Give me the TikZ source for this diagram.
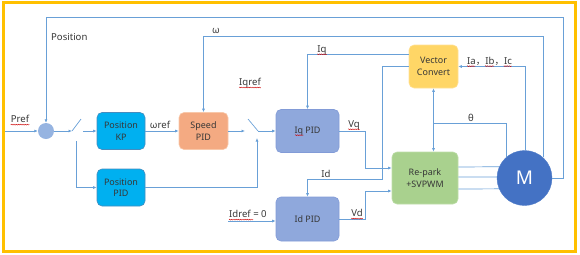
\documentclass[tikz,border=0pt]{standalone}
\usepackage{fontspec}
\setmainfont{Noto Sans}
\newfontfamily\cjk{Noto Sans CJK SC}
\usetikzlibrary{arrows.meta,calc,decorations.pathmorphing}
\definecolor{ln}{RGB}{105,160,215}
\definecolor{txt}{RGB}{55,55,55}
\definecolor{frame}{RGB}{255,192,0}
\definecolor{kpfill}{RGB}{0,176,240}
\definecolor{kpdraw}{RGB}{70,140,190}
\definecolor{spfill}{RGB}{244,170,130}
\definecolor{spdraw}{RGB}{248,200,170}
\definecolor{pidfill}{RGB}{143,168,220}
\definecolor{piddraw}{RGB}{130,155,215}
\definecolor{vcfill}{RGB}{255,214,102}
\definecolor{vcdraw}{RGB}{255,225,150}
\definecolor{rpfill}{RGB}{169,209,142}
\definecolor{rpdraw}{RGB}{190,222,170}
\definecolor{mfill}{RGB}{68,114,196}
\definecolor{mdraw}{RGB}{80,125,200}
\definecolor{sumfill}{RGB}{150,180,225}
\newcommand\boxfont{\fontsize{9}{11.5}\selectfont}
\newcommand\lblfont{\fontsize{9.6}{12}\selectfont}
\tikzset{
  conn/.style={draw=ln, line width=0.7bp},
  arr/.style={conn, -{Latex[length=3.5bp,width=3bp]}},
  box/.style={rounded corners=5bp, align=center, inner sep=0pt, font=\boxfont, text=txt, line width=0.6bp},
  lbl/.style={font=\lblfont, text=txt, inner sep=0pt},
  spell/.style={draw=red!80!black, line width=0.35bp, decorate, decoration={snake, amplitude=0.45bp, segment length=1.8bp}},
}
\begin{document}
\begin{tikzpicture}[x=1bp,y=-1bp]
\useasboundingbox (0,0) rectangle (580,254);
\draw[frame, line width=3.5bp] (3.5,2.5) rectangle (575.5,251.3);

% nodes
\node[box, fill=kpfill, draw=kpdraw, minimum width=48bp, minimum height=37bp] (KP) at (121,131) {Position\\KP};
\node[box, fill=kpfill, draw=kpdraw, minimum width=48bp, minimum height=37bp] (PPID) at (121,187.5) {Position\\PID};
\node[box, fill=spfill, draw=spdraw, minimum width=49bp, minimum height=37bp] (SPID) at (203.5,131) {Speed\\PID};
\node[box, fill=pidfill, draw=piddraw, minimum width=63bp, minimum height=43bp] (IqPID) at (307.5,131) {Iq PID};
\node[box, fill=pidfill, draw=piddraw, minimum width=63bp, minimum height=44bp] (IdPID) at (307.5,219) {Id PID};
\node[box, fill=vcfill, draw=vcdraw, minimum width=49bp, minimum height=43bp] (VC) at (433.5,66.5) {Vector\\Convert};
\node[box, fill=rpfill, draw=rpdraw, minimum width=66bp, minimum height=52bp] (RP) at (425,178) {Re-park\\+SVPWM};
\node[circle, fill=mfill, draw=mdraw, minimum size=55bp, inner sep=0pt, text=white, font=\fontsize{19}{24}\selectfont] (M) at (524.5,178) {M};
\node[circle, fill=sumfill, minimum size=16bp, inner sep=0pt] (Sum) at (46,131) {};

% coordinates
\coordinate (pin) at (5,131);
\coordinate (s1in) at (72,131);
\coordinate (s1tip) at (81,119);
\coordinate (s1out) at (83,131);
\coordinate (s1dn) at (76,141);
\coordinate (s2in) at (245,131);
\coordinate (s2tip) at (248,119);
\coordinate (s2piv) at (258,131);
\coordinate (s2low) at (257,138);
\coordinate (ptop) at (46,17);
\coordinate (wtop) at (203.5,36);
\coordinate (theta) at (433.5,123);
\coordinate (idx) at (382,179);
\coordinate (vqx) at (365,131);
\coordinate (vdx) at (365,219);
\coordinate (idrefin) at (228,221);

% connectors
\draw[arr] (pin) -- (Sum.west);
\draw[arr] (Sum.east) -- (s1in);
\draw[conn] (s1in) -- (s1tip);
\draw[arr] (s1out) -- (KP.west);
\draw[arr] (s1dn) |- (PPID.west);
\draw[arr] (KP.east) -- (SPID.west);
\draw[arr] (SPID.east) -- (s2in);
\draw[conn] (s2tip) -- (s2piv);
\draw[arr] (s2piv) -- (IqPID.west);
\draw[arr] (PPID.east) -| (s2low);
\draw[arr] (M.east) -- ++(11,0) |- (ptop) -- (Sum.north);
\draw[arr] (M.48) |- (wtop) -- (SPID.north);
\draw[arr] (M.89) |- (VC.east);
\draw[conn] (M.132) |- (theta);
\draw[arr] (theta) -- (VC.south);
\draw[arr] (theta) -- (VC.south |- RP.north);
\draw[arr] ($(VC.west)+(0,-12.5)$) -| (IqPID.north);
\draw[arr] (VC.west) -| (idx) -| (IdPID.north);
\draw[arr] (IqPID.east) -- (vqx) |- ($(RP.west)+(0,-10)$);
\draw[arr] (IdPID.east) -- (vdx) |- ($(RP.west)+(0,13)$);
\draw[arr] (idrefin) -- ($(IdPID.west)+(0,2)$);
\draw[conn] ($(RP.east)+(0,-11)$) -- (M.156.4);
\draw[conn] ($(RP.east)+(0,-1)$) -- (M.178);
\draw[conn] ($(RP.east)+(0,11)$) -- (M.203.6);

% labels
\node[lbl, anchor=west] (lpos) at (51,37) {Position};
\node[lbl] (lw) at (216,31) {ω};
\node[lbl] (liqref) at (250,83) {Iqref};
\node[lbl] (lpref) at (20,119) {Pref};
\node[lbl] (lwref) at (160,125) {ωref};
\node[lbl] (liq) at (322,50) {Iq};
\node[lbl, anchor=west] (liabc) at (467,61) {Ia{\cjk ，}Ib{\cjk ，}Ic};
\node[lbl] (lth) at (471,118) {θ};
\node[lbl] (lvq) at (354,125) {Vq};
\node[lbl] (lid) at (326,174) {Id};
\node[lbl] (lvd) at (357,213) {Vd};
\node[lbl, anchor=west] (lidref) at (229,214) {Idref = 0};

% spell-check underlines
\draw[spell] ($(lpref.base west)+(0,2)$) -- ($(lpref.base east)+(0,2)$);
\draw[spell] ($(liqref.base west)+(0,2)$) -- ($(liqref.base east)+(0,2)$);
\draw[spell] ($(liq.base west)+(0,2)$) -- ($(liq.base east)+(0,2)$);
\draw[spell] ($(lvq.base west)+(0,2)$) -- ($(lvq.base east)+(0,2)$);
\draw[spell] ($(lvd.base west)+(0,2)$) -- ($(lvd.base east)+(0,2)$);
\draw[spell] ($(lidref.base west)+(0,2)$) -- ($(lidref.base west)+(24,2)$);
\draw[spell] ($(liabc.base west)+(0,2)$) -- ($(liabc.base west)+(8.3,2)$);
\draw[spell] ($(liabc.base west)+(17.9,2)$) -- ($(liabc.base west)+(27,2)$);
\draw[spell] ($(liabc.base west)+(36.6,2)$) -- ($(liabc.base west)+(44.5,2)$);
\draw[spell] ($(IqPID.base)+(-12.5,2)$) -- ($(IqPID.base)+(-4.2,2)$);
\end{tikzpicture}
\end{document}
